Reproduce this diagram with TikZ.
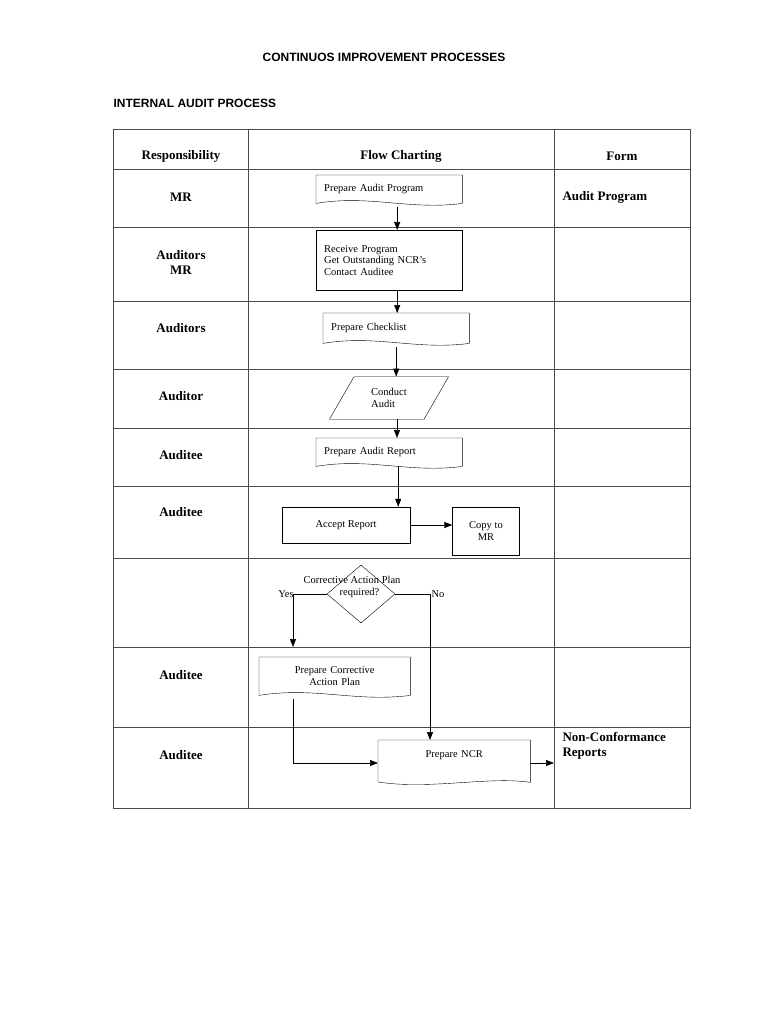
\documentclass[tikz,border=0pt]{standalone}
\usepackage{fontspec}
\setmainfont{Liberation Serif}
\newfontfamily\titlefont{Liberation Sans}
\usetikzlibrary{positioning,calc,shapes.geometric,arrows.meta}
\newcommand{\wavybox}[1]{\draw (#1.south east) -- (#1.north east) -- (#1.north west) -- (#1.south west)
  .. controls ($(#1.south)+(-20,-9)$) and ($(#1.south)+(20,7)$) .. (#1.south east);}
\begin{document}
\begin{tikzpicture}[x=1pt, y=-1pt,
  grid/.style={draw=black!70, line width=.6pt},
  head/.style={font=\bfseries\fontsize{13}{15}\selectfont},
  box/.style={draw, minimum height=#1, anchor=north west, align=left, text width=130, inner xsep=8, font=\fontsize{10.5}{11.5}\selectfont},
  doc/.style={minimum height=#1, anchor=north west, align=left, text width=130, inner xsep=8, font=\fontsize{10.5}{11.5}\selectfont},
  flow/.style={-{Triangle[length=8pt,width=6pt]}, line width=.7pt},
  small/.style={font=\fontsize{10.5}{11.5}\selectfont}]
\useasboundingbox (0,0) rectangle (768,1024);
% titles
\node[font=\titlefont\bfseries\fontsize{12}{14}\selectfont] (title) at (384,57) {CONTINUOS IMPROVEMENT PROCESSES};
\node[font=\titlefont\bfseries\fontsize{12}{14}\selectfont, anchor=west] (sub) at (110,103) {INTERNAL AUDIT PROCESS};
% table
\draw[grid] (113,129) rectangle (690,808);
\foreach \y in {169,227,301,369,428,486,558,647,727} \draw[grid] (113,\y) -- (690,\y);
\foreach \x in {248,554} \draw[grid] (\x,129) -- (\x,808);
\node[head] (h1) at (181,156) {Responsibility};
\node[head] (h2) at (401,156) {Flow Charting};
\node[head] (h3) at (622,156) {Form};
\node[head] (r1) at (181,197) {MR};
\node[head, align=center] (r2) at (181,262) {Auditors\\MR};
\node[head] (r3) at (181,328) {Auditors};
\node[head] (r4) at (181,396) {Auditor};
\node[head] (r5) at (181,455) {Auditee};
\node[head] (r6) at (181,512) {Auditee};
\node[head] (r8) at (181,675) {Auditee};
\node[head] (r9) at (181,755) {Auditee};
\node[head, anchor=west] (f1) at (559,197) {Audit Program};
\node[head, anchor=west, align=left] (f9) at (559,746) {Non-Conformance\\Reports};
% flow shapes
\node[doc=28] (pap) at (316,175) {Prepare Audit Program}; \wavybox{pap}
\node[box=60] (rcv) at (316,230) {Receive Program\\Get Outstanding NCR's\\Contact Auditee};
\node[doc=30] (chk) at (323,313) {Prepare Checklist}; \wavybox{chk}
\node[trapezium, trapezium left angle=60, trapezium right angle=120, draw, minimum width=120, minimum height=35, align=left, small] (cnd) at (389,398) {Conduct\\Audit\hspace{30pt}};
\node[doc=28] (rep) at (316,438) {Prepare Audit Report}; \wavybox{rep}
\node[draw, minimum width=128, minimum height=36, small] (acc) at (346,525) {Accept Report};
\node[draw, minimum width=67, minimum height=48, small, align=center] (cpy) at (486,531) {Copy to\\MR};
\node[diamond, draw, minimum width=68, minimum height=58, inner sep=0] (dec) at (361,594) {};
\node[small, align=center] (dect) at (352,587) {Corrective Action Plan\\\hspace{15pt}required?};
\node[small] (yes) at (286,594) {Yes};
\node[small] (no) at (438,594) {No};
\node[doc=38, text width=135, align=center] (cap) at (259,657) {Prepare Corrective\\Action Plan}; \wavybox{cap}
\node[doc=30, text width=136, align=center] (ncr) at (378,740) {Prepare NCR};
\draw (ncr.south east) ++(0,12) -- (ncr.north east) -- (ncr.north west) -- ++(0,42)
  .. controls (430,790) and (490,776) .. ($(ncr.south east)+(0,12)$);
% connection points
\coordinate (c1) at ($(pap.south)+(8,4)$);
\coordinate (c2) at ($(chk.south)+(0,4)$);
\coordinate (c3) at ($(cnd.south)+(8,0)$);
\coordinate (c4) at ($(rep.south)+(9,0)$);
\coordinate (yesend) at (293,647);
\coordinate (noend) at (430,740);
\coordinate (capout) at ($(cap.south west)+(34,4)$);
\coordinate (ncrin) at (378,763);
\coordinate (ncrout) at (554,763);
% connectors
\draw[flow] (c1) -- (c1 |- rcv.north);
\draw[flow] (rcv.south) ++(8,0) coordinate (c5) -- (c5 |- chk.north);
\draw[flow] (c2) -- (c2 |- cnd.north);
\draw[flow] (c3) -- (c3 |- rep.north);
\draw[flow] (c4) -- (c4 |- acc.north);
\draw[flow] (acc.east) -- (cpy.west |- acc.east);
\draw[flow] (dec.west) -| (yesend);
\draw[flow] (dec.east) -| (noend);
\draw[flow] (capout) |- (ncrin);
\draw[flow] (ncrin -| ncr.east) -- (ncrout);
\end{tikzpicture}
\end{document}
